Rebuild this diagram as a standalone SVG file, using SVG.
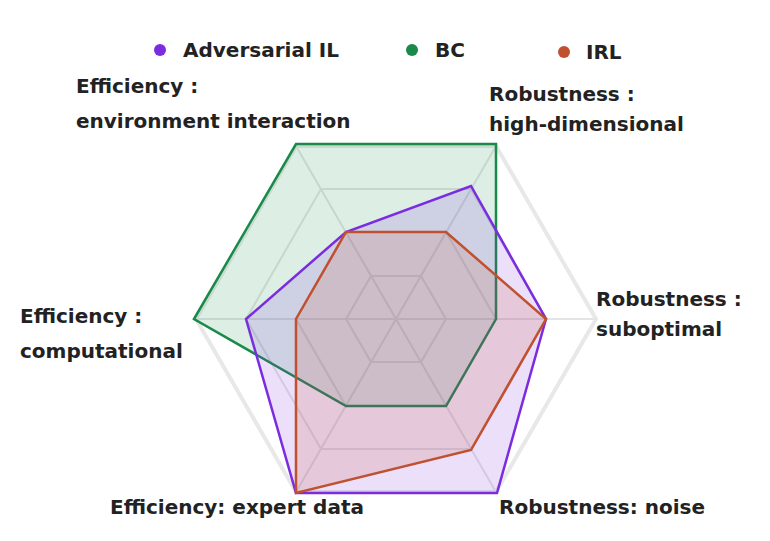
<svg xmlns="http://www.w3.org/2000/svg" width="770" height="541" viewBox="0 0 770 541">
<style>
text{font-family:"DejaVu Sans",Verdana,sans-serif;font-weight:bold;font-size:20px;fill:#222}
.grid{fill:none;stroke:#e4e4e4;stroke-width:2}
.outer{fill:none;stroke:#e8e8e8;stroke-width:4}
</style>
<rect width="770" height="541" fill="#fff"/>
<g id="grid">
<polygon class="outer" points="196,319 296,146 496,146 596,319 496,492 296,492"/>
<polygon class="grid" points="246,319 321,189 471,189 546,319 471,449 321,449"/>
<polygon class="grid" points="296,319 346,232 446,232 496,319 446,406 346,406"/>
<polygon class="grid" points="346,319 371,276 421,276 446,319 421,362 371,362"/>
<path class="grid" d="M196,319H596M296,146L496,492M496,146L296,492"/>
</g>
<g id="series">
<polygon id="bc" points="194,319 296,144 496,144 496,319 446,406 346,406" fill="#1a8a4a" fill-opacity="0.15" stroke="#1a8a4a" stroke-width="2.5"/>
<polygon id="ail" points="246,319 346,232 471,186 546,319 497,493 296,493" fill="#7b2be0" fill-opacity="0.15" stroke="#7b2be0" stroke-width="2.5"/>
<polygon id="irl" points="296,319 346,232 446,232 546,319 471,450 296,493" fill="#c0502e" fill-opacity="0.15" stroke="#c0502e" stroke-width="2.5"/>
</g>
<g id="legend">
<circle cx="160" cy="50" r="6" fill="#7b2be0"/><text x="183" y="57">Adversarial IL</text>
<circle cx="412" cy="50" r="6" fill="#1a8a4a"/><text x="435" y="57">BC</text>
<circle cx="564" cy="52" r="6" fill="#c0502e"/><text x="586" y="59">IRL</text>
</g>
<g id="labels">
<text x="76" y="93">Efficiency :</text><text x="76" y="128">environment interaction</text>
<text x="489" y="101">Robustness :</text><text x="489" y="131">high-dimensional</text>
<text x="596" y="306">Robustness :</text><text x="596" y="336">suboptimal</text>
<text x="20" y="323">Efficiency :</text><text x="20" y="358">computational</text>
<text x="110" y="514">Efficiency: expert data</text>
<text x="499" y="514">Robustness: noise</text>
</g>
</svg>
